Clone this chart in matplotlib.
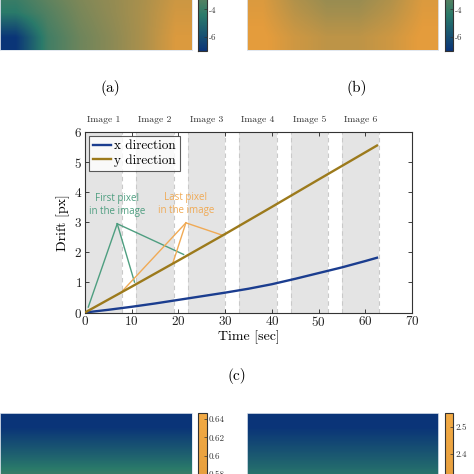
import matplotlib
matplotlib.use('Agg')
import matplotlib.pyplot as plt
import numpy as np
from matplotlib.colors import LinearSegmentedColormap
from matplotlib.ticker import FormatStrFormatter

plt.rcParams['font.family'] = 'serif'
plt.rcParams['font.serif'] = ['cmr10', 'DejaVu Serif']
plt.rcParams['axes.formatter.use_mathtext'] = True
plt.rcParams['mathtext.fontset'] = 'cm'

# drift curves (c)
t_x = [0, 5, 10, 15, 20, 25, 30, 35, 40, 45, 50, 55, 60, 62.5]
drift_x = [0, 0.09, 0.19, 0.30, 0.42, 0.54, 0.66, 0.79, 0.94, 1.12,
           1.31, 1.50, 1.71, 1.82]
t_y = [0, 10, 20, 30, 40, 50, 62.5]
drift_y = [0, 0.86, 1.73, 2.61, 3.51, 4.42, 5.55]

# acquisition windows of the six images
img_start = [0, 11, 22, 33, 44, 55]
img_end = [8, 19, 30, 41, 52, 63]
img_names = ['Image 1', 'Image 2', 'Image 3', 'Image 4', 'Image 5', 'Image 6']

# annotation leader lines
first_apex = (6.9, 2.95)
first_ends = [(0.7, 0.18), (10.6, 1.01), (21.1, 1.93)]
last_apex = (21.6, 2.98)
last_ends = [(8.1, 0.73), (18.8, 1.64), (29.4, 2.57)]

# heatmap panels (coarse grids, rows top to bottom)
map_a = [[-3.0, -2.3, -1.8, -1.4, -0.9, -0.3],
         [-3.6, -2.7, -2.0, -1.5, -0.9, 0.0],
         [-4.4, -3.3, -2.3, -1.6, -0.8, 0.3],
         [-7.0, -3.8, -2.6, -1.8, -0.8, 0.6]]
map_b = [[0.3, -1.2, -2.0, -2.0, -1.2, 0.3],
         [0.5, -0.9, -1.7, -1.7, -0.9, 0.5],
         [0.7, -0.4, -1.1, -1.1, -0.4, 0.7],
         [1.0, 0.2, -0.3, -0.3, 0.2, 1.0]]
map_d = [[0.30, 0.30, 0.30],
         [0.36, 0.36, 0.36],
         [0.43, 0.43, 0.43],
         [0.48, 0.48, 0.48]]
map_e = [[1.39, 1.39, 1.39],
         [1.55, 1.55, 1.55],
         [1.73, 1.73, 1.73],
         [1.88, 1.88, 1.88]]
clim_ab = (-7.05, 3.5)
clim_d = (0.30, 0.647)
clim_e = (1.39, 2.551)

cmap = LinearSegmentedColormap.from_list(
    'drift', ['#0a3478', '#2a7a6a', '#8c8a55', '#e49c3c', '#f2aa44'],
    N=256)

fig = plt.figure(figsize=(4.74, 4.74), dpi=100)


def px_axes(x0, y0, x1, y1):
    return fig.add_axes([x0 / 474, 1 - y1 / 474, (x1 - x0) / 474, (y1 - y0) / 474])


def heat(box, cbox, data, clim, ticks):
    ax = px_axes(*box)
    im = ax.imshow(np.array(data), cmap=cmap, vmin=clim[0], vmax=clim[1],
                   aspect='auto', interpolation='bilinear')
    ax.set_xticks([])
    ax.set_yticks([])
    for s in ax.spines.values():
        s.set_color('#dde4ee')
        s.set_linewidth(0.6)
    cax = px_axes(*cbox)
    cb = fig.colorbar(im, cax=cax, ticks=ticks)
    cb.outline.set_edgecolor('#333333')
    cb.outline.set_linewidth(0.8)
    cax.yaxis.set_major_formatter(FormatStrFormatter('%g'))
    cax.tick_params(direction='in', length=2, width=0.5, labelsize=6.5,
                    pad=1.5, colors='#333333')


heat((0, -50, 192, 50), (198, -93, 207, 51), map_a, clim_ab, [-6, -4])
heat((247, -50, 438, 50), (445, -93, 453, 51), map_b, clim_ab, [-6, -4])
heat((0, 412.5, 192, 532), (198, 412.7, 207, 730), map_d, clim_d,
     [0.58, 0.6, 0.62, 0.64])
heat((247, 412.5, 438, 532), (445, 412.7, 453, 730), map_e, clim_e,
     [2.4, 2.5])

fig.text(110 / 474, 1 - 88 / 474, '(a)', ha='center', va='center', fontsize=11)
fig.text(357 / 474, 1 - 88 / 474, '(b)', ha='center', va='center', fontsize=11)
fig.text(237 / 474, 1 - 376 / 474, '(c)', ha='center', va='center', fontsize=11)

# main drift plot
ax = px_axes(85, 132, 412, 312.5)
for s, e, name in zip(img_start, img_end, img_names):
    ax.axvspan(s, e, facecolor='#e4e4e4', edgecolor='none', zorder=0)
    for edge in (s, e):
        if edge > 0:
            ax.axvline(edge, color='#c9c9c9', lw=0.8, ls=(0, (4, 3)), zorder=0.5)
    ax.text((s + e) / 2, 1.065, name,
            transform=ax.get_xaxis_transform(), ha='center', va='center',
            fontsize=7, color='#333333')

for x1, y1 in first_ends:
    ax.plot([first_apex[0], x1], [first_apex[1], y1], color='#4e9e80', lw=1.0, zorder=2)
for x1, y1 in last_ends:
    ax.plot([last_apex[0], x1], [last_apex[1], y1], color='#f0aa55', lw=1.0, zorder=2)
ax.text(6.9, 3.57, 'First pixel\nin the image', color='#4e9e80', ha='center',
        va='center', fontsize=7, family='Open Sans', linespacing=1.25)
ax.text(21.6, 3.6, 'Last pixel\nin the image', color='#f0aa55', ha='center',
        va='center', fontsize=7, family='Open Sans', linespacing=1.25)

ax.plot(t_x, drift_x, color='#1b3d8f', lw=1.7, label='x direction', zorder=3)
ax.plot(t_y, drift_y, color='#9c7a1c', lw=1.7, label='y direction', zorder=3)

ax.set_xlim(0, 70)
ax.set_ylim(0, 6)
ax.set_xticks(range(0, 71, 10))
ax.set_yticks(range(0, 7))
ax.tick_params(direction='in', length=3, width=0.6, labelsize=9.5, pad=2,
               top=True, right=True, colors='#222222')
for s in ax.spines.values():
    s.set_color('#333333')
    s.set_linewidth(0.8)
ax.set_xlabel('Time [sec]', fontsize=10, labelpad=1)
ax.set_ylabel('Drift [px]', fontsize=10, labelpad=3)
leg = ax.legend(loc='upper left', fontsize=9.5, frameon=True, fancybox=False,
                handlelength=1.4, handletextpad=0.2, borderpad=0.3,
                labelspacing=0.15, borderaxespad=0.3)
leg.get_frame().set_edgecolor('#333333')
leg.get_frame().set_linewidth(0.8)

fig.savefig('out.png', dpi=100)
